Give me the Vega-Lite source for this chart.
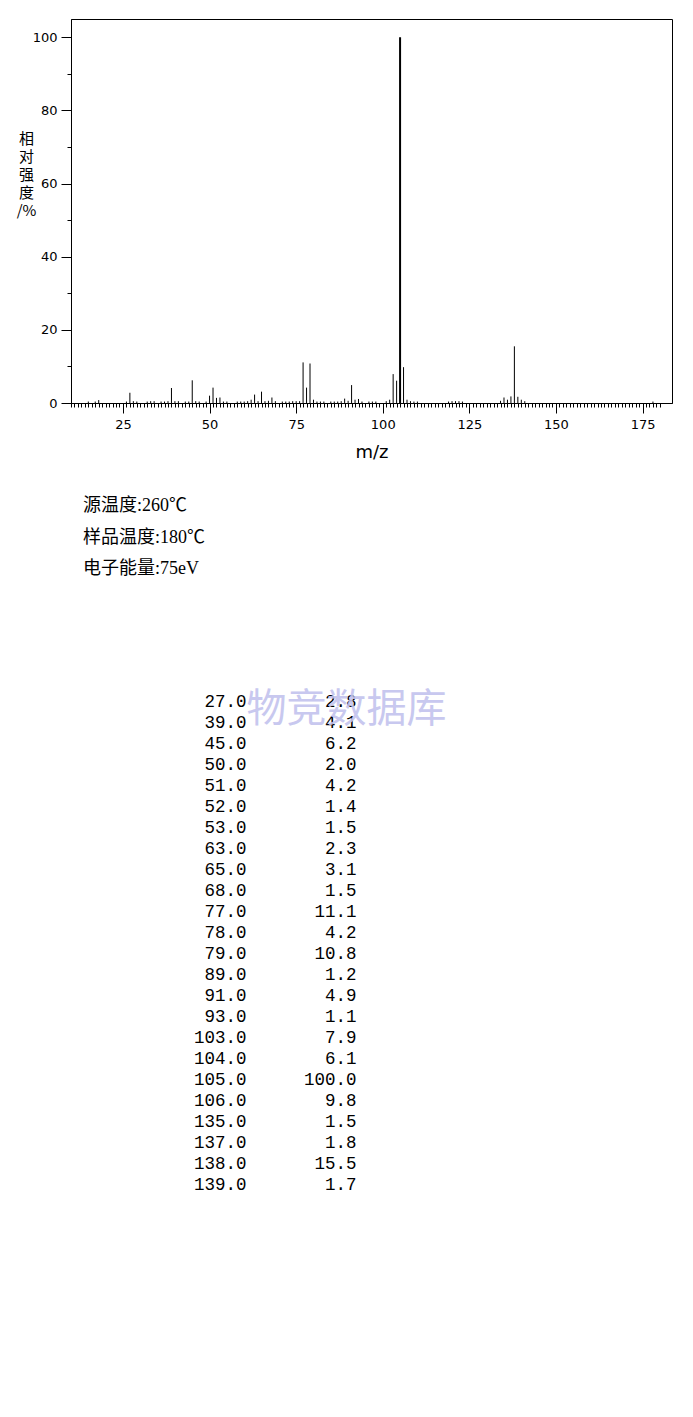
{
  "$schema": "https://vega.github.io/schema/vega-lite/v6.json",
  "background": "white",
  "padding": {"left": 15, "top": 18, "right": 5, "bottom": 5},
  "spacing": 28.5,
  "config": {"view": {"stroke": null}},
  "datasets": {
    "peaks": [{"mz":15,"intensity":0.4},{"mz":17,"intensity":0.4},{"mz":18,"intensity":0.8},{"mz":26,"intensity":0.4},{"mz":27,"intensity":2.8},{"mz":28,"intensity":0.5},{"mz":29,"intensity":0.4},{"mz":32,"intensity":0.4},{"mz":33,"intensity":0.5},{"mz":34,"intensity":0.5},{"mz":36,"intensity":0.4},{"mz":37,"intensity":0.4},{"mz":38,"intensity":0.5},{"mz":39,"intensity":4.1},{"mz":40,"intensity":0.5},{"mz":41,"intensity":0.5},{"mz":43,"intensity":0.4},{"mz":44,"intensity":0.4},{"mz":45,"intensity":6.2},{"mz":46,"intensity":0.5},{"mz":47,"intensity":0.4},{"mz":49,"intensity":0.4},{"mz":50,"intensity":2.0},{"mz":51,"intensity":4.2},{"mz":52,"intensity":1.4},{"mz":53,"intensity":1.5},{"mz":54,"intensity":0.4},{"mz":55,"intensity":0.4},{"mz":58,"intensity":0.4},{"mz":59,"intensity":0.4},{"mz":60,"intensity":0.4},{"mz":61,"intensity":0.5},{"mz":62,"intensity":0.9},{"mz":63,"intensity":2.3},{"mz":64,"intensity":0.5},{"mz":65,"intensity":3.1},{"mz":66,"intensity":0.5},{"mz":67,"intensity":0.6},{"mz":68,"intensity":1.5},{"mz":69,"intensity":0.5},{"mz":71,"intensity":0.4},{"mz":72,"intensity":0.4},{"mz":73,"intensity":0.4},{"mz":74,"intensity":0.5},{"mz":75,"intensity":0.5},{"mz":76,"intensity":0.5},{"mz":77,"intensity":11.1},{"mz":78,"intensity":4.2},{"mz":79,"intensity":10.8},{"mz":80,"intensity":0.9},{"mz":81,"intensity":0.4},{"mz":82,"intensity":0.4},{"mz":83,"intensity":0.4},{"mz":85,"intensity":0.4},{"mz":86,"intensity":0.4},{"mz":87,"intensity":0.4},{"mz":88,"intensity":0.5},{"mz":89,"intensity":1.2},{"mz":90,"intensity":0.6},{"mz":91,"intensity":4.9},{"mz":92,"intensity":0.9},{"mz":93,"intensity":1.1},{"mz":94,"intensity":0.4},{"mz":96,"intensity":0.4},{"mz":97,"intensity":0.4},{"mz":98,"intensity":0.4},{"mz":101,"intensity":0.5},{"mz":102,"intensity":0.9},{"mz":103,"intensity":7.9},{"mz":104,"intensity":6.1},{"mz":105,"intensity":100.0},{"mz":106,"intensity":9.8},{"mz":107,"intensity":0.9},{"mz":108,"intensity":0.5},{"mz":109,"intensity":0.4},{"mz":110,"intensity":0.4},{"mz":119,"intensity":0.4},{"mz":120,"intensity":0.5},{"mz":121,"intensity":0.5},{"mz":122,"intensity":0.5},{"mz":123,"intensity":0.4},{"mz":134,"intensity":0.6},{"mz":135,"intensity":1.5},{"mz":136,"intensity":0.9},{"mz":137,"intensity":1.8},{"mz":138,"intensity":15.5},{"mz":139,"intensity":1.7},{"mz":140,"intensity":0.9},{"mz":141,"intensity":0.5},{"mz":178,"intensity":0.4}]
  },
  "vconcat": [
    {
      "width": 601,
      "height": 384,
      "view": {"stroke": "black", "strokeWidth": 1},
      "data": {"name": "peaks"},
      "mark": {"type": "rule", "color": "black"},
      "encoding": {
        "x": {
          "field": "mz", "type": "quantitative",
          "scale": {"domain": [10, 183.5], "nice": false, "zero": false},
          "axis": {
            "values": [10,11,12,13,14,15,16,17,18,19,20,21,22,23,24,25,26,27,28,29,30,31,32,33,34,35,36,37,38,39,40,41,42,43,44,45,46,47,48,49,50,51,52,53,54,55,56,57,58,59,60,61,62,63,64,65,66,67,68,69,70,71,72,73,74,75,76,77,78,79,80,81,82,83,84,85,86,87,88,89,90,91,92,93,94,95,96,97,98,99,100,101,102,103,104,105,106,107,108,109,110,111,112,113,114,115,116,117,118,119,120,121,122,123,124,125,126,127,128,129,130,131,132,133,134,135,136,137,138,139,140,141,142,143,144,145,146,147,148,149,150,151,152,153,154,155,156,157,158,159,160,161,162,163,164,165,166,167,168,169,170,171,172,173,174,175,176,177,178,179,180],
            "labelExpr": "datum.value % 25 === 0 ? datum.label : ''",
            "labelOverlap": false,
            "labelFlush": false,
            "tickSize": {"condition": {"test": "datum.value % 25 === 0", "value": 10}, "value": 4},
            "tickColor": "black",
            "domainColor": "black",
            "labelColor": "black",
            "labelFont": "DejaVu Sans",
            "labelFontSize": 13,
            "labelPadding": 5,
            "grid": false,
            "title": "m/z",
            "titleFont": "DejaVu Sans",
            "titleFontSize": 18,
            "titleFontWeight": "normal",
            "titleColor": "black",
            "titlePadding": 12
          }
        },
        "y": {
          "field": "intensity", "type": "quantitative",
          "scale": {"domain": [0, 105], "nice": false},
          "axis": {
            "values": [0,10,20,30,40,50,60,70,80,90,100],
            "labelExpr": "datum.value % 20 === 0 ? datum.label : ''",
            "labelOverlap": false,
            "labelFlush": false,
            "tickSize": {"condition": {"test": "datum.value % 20 === 0", "value": 10}, "value": 4},
            "tickColor": "black",
            "domainColor": "black",
            "labelColor": "black",
            "labelFont": "DejaVu Sans",
            "labelFontSize": 13,
            "labelPadding": 4,
            "grid": false,
            "title": ["相", "对", "强", "度", "/%"],
            "titleAngle": 0,
            "titleFont": "Noto Sans CJK SC",
            "titleFontSize": 15,
            "titleFontWeight": "normal",
            "titleColor": "black",
            "titleLineHeight": 18,
            "titleAlign": "center",
            "titleBaseline": "top",
            "titleX": -45,
            "titleY": 112
          }
        },
        "y2": {"datum": 0},
        "strokeWidth": {"condition": {"test": "datum.intensity >= 100", "value": 2}, "value": 1}
      }
    },
    {
      "width": 24,
      "height": 169.75,
      "data": {"values": [
        {"line": "源温度:260℃", "row": 1},
        {"line": "样品温度:180℃", "row": 2},
        {"line": "电子能量:75eV", "row": 3}
      ]},
      "mark": {"type": "text", "align": "left", "baseline": "middle", "font": "Liberation Serif, Noto Sans CJK SC", "fontSize": 18, "color": "black"},
      "encoding": {
        "y": {"field": "row", "type": "quantitative", "scale": {"domain": [0.5, 5.889], "reverse": true, "nice": false, "zero": false}, "axis": null},
        "text": {"field": "line", "type": "nominal"}
      }
    },
    {
      "width": 330,
      "height": 505,
      "layer": [
        {
          "data": {"name": "peaks"},
          "transform": [
            {"filter": "datum.intensity >= 1"},
            {"fold": ["mz", "intensity"], "as": ["col", "val"]}
          ],
          "mark": {"type": "text", "align": "right", "baseline": "middle", "font": "Liberation Mono", "fontSize": 17.5, "color": "black", "dx": 65.5},
          "encoding": {
            "x": {"field": "col", "type": "nominal", "scale": {"type": "point", "domain": ["mz", "intensity"], "padding": 1}, "axis": null},
            "y": {"field": "mz", "type": "ordinal", "scale": {"type": "point", "padding": 0.5}, "axis": null},
            "text": {"field": "val", "type": "quantitative", "format": ".1f"}
          }
        },
        {
          "data": {"values": [{"wm": "物竞数据库"}]},
          "mark": {"type": "text", "align": "center", "baseline": "middle", "font": "Noto Sans CJK SC", "fontSize": 40, "color": "#c3c3ee", "opacity": 0.9, "dx": 55.5, "dy": 8},
          "encoding": {
            "x": {"datum": "intensity", "type": "nominal"},
            "y": {"datum": 27, "type": "ordinal"},
            "text": {"field": "wm", "type": "nominal"}
          }
        }
      ]
    }
  ]
}
